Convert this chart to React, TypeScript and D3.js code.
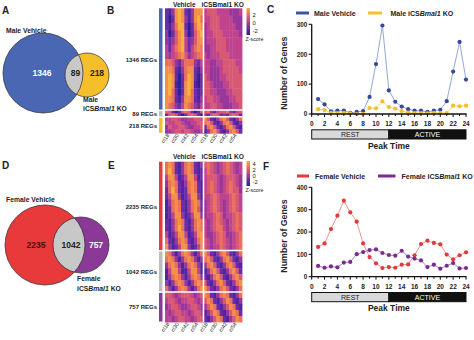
import React from "react";
import * as d3 from "d3";

const FONT = "'Liberation Sans', Arial, Helvetica, sans-serif";

// ---------- line chart data ----------
const peakHours = [1, 2, 3, 4, 5, 6, 7, 8, 9, 10, 11, 12, 13, 14, 15, 16, 17, 18, 19, 20, 21, 22, 23, 24];
const xTickValues = [0, 2, 4, 6, 8, 10, 12, 14, 16, 18, 20, 22, 24];
const maleYTicks = [0, 100, 200, 300];
const femaleYTicks = [0, 100, 200, 300, 400];

const maleVehicle = [50, 32, 9, 11, 11, 4, 7, 10, 57, 167, 296, 79, 41, 25, 16, 11, 11, 7, 11, 14, 43, 142, 241, 115];
const maleKO = [16, 13, 4, 3, 4, 2, 0, 0, 20, 19, 42, 23, 18, 10, 5, 3, 3, 2, 4, 3, 3, 28, 26, 28];
const femaleVehicle = [133, 149, 213, 273, 340, 288, 246, 149, 88, 60, 39, 43, 40, 54, 55, 96, 146, 161, 151, 145, 99, 78, 96, 109];
const femaleKO = [48, 40, 46, 42, 63, 66, 101, 110, 119, 122, 106, 97, 94, 116, 90, 81, 73, 43, 54, 36, 49, 61, 37, 39];

// ---------- venn data ----------
const maleVenn = [1346, 89, 218];
const femaleVenn = [2235, 1042, 757];

// ---------- heatmap data ----------
const heatTimes = ["ct18", "ct22", "ct26", "ct30", "ct34", "ct38", "ct42", "ct46", "ct50", "ct54", "ct58", "ct62"];
const heatTimeLabels = ["ct18", "ct30", "ct42", "ct54"];
const heatConditions = ["Vehicle", "iCSBmal1 KO"];
const maleRegCounts = [1346, 89, 218];
const maleRegLabels = ["1346 REGs", "89 REGs", "218 REGs"];
const femaleRegCounts = [2235, 1042, 757];
const femaleRegLabels = ["2235 REGs", "1042 REGs", "757 REGs"];
const maleLegendTicks = [2, 0, -2];
const femaleLegendTicks = [4, 2, 0, -2];

// z-score levels as digits (0 = -2.5 ... 8 = +2.5); each row: 12 vehicle + 12 KO
const maleRows1 = [
  "213787213777" + "455544443334",
  "202787313786" + "445554444333",
  "213688202687" + "345554444433",
  "302578302578" + "344555444443",
  "323578423577" + "344455544444",
  "424678424676" + "334455544444",
  "434567534566" + "434445554444",
  "665324666324" + "443344555544",
  "776213677213" + "443334555554",
  "787202687202" + "543334455555",
  "787102787102" + "554333445555",
  "786202786212" + "554433344555",
  "776213776213" + "455443334455",
  "765324765324" + "445544333445",
];
const maleRows2 = [
  "652025652025" + "563245563245",
  "256520256520" + "325652325652",
];
const maleRows3 = [
  "445543344554" + "752136752136",
  "544554334455" + "675213675213",
  "354455433445" + "267521367521",
  "334554554334" + "136752136752",
];
const femaleRows1 = [
  "676213676213" + "565434565434",
  "686213676212" + "465434565434",
  "477412477412" + "455543455543",
  "367621367621" + "456543456543",
  "268621267621" + "456543456553",
  "247731247731" + "445654445654",
  "136762136762" + "345654345654",
  "126762136752" + "345654345654",
  "124773124773" + "344565344565",
  "213676213676" + "434565434565",
  "213686213676" + "434566434565",
  "412477412477" + "433456533456",
  "621367621367" + "543456543456",
  "731247731247" + "543446543456",
];
const femaleRows2 = [
  "763136763136" + "752136752136",
  "676313676313" + "675213675213",
  "367631367631" + "367521367521",
  "147741147741" + "136752136752",
  "136763136763" + "213675213675",
  "313676313676" + "521367521367",
  "631367631367" + "752136752136",
];
const femaleRows3 = [
  "554345554345" + "762136762136",
  "455434455434" + "576213576213",
  "345543345543" + "357621357621",
  "434554434554" + "135762135762",
  "443455443455" + "213576213576",
];

const cellColor = d3
  .scaleLinear<string>()
  .domain([-2.5, -1.3, 0, 1.2, 2.5])
  .range(["#2f1f97", "#6a2ba8", "#c0438e", "#ec6d5a", "#f8b03c"])
  .clamp(true);

const digitToZ = (ch: string) => (parseInt(ch, 10) - 4) * 0.625;

function ItalicKO({ prefix }: { prefix: string }) {
  return (
    <>
      {prefix}iCS<tspan fontStyle="italic">Bmal1</tspan> KO
    </>
  );
}

function Venn(props: {
  id: string;
  values: number[];
  big: { cx: number; cy: number; r: number; color: string };
  small: { cx: number; cy: number; r: number; color: string };
  title: string;
  titleY: number;
  koLabel: string;
  koX: number;
  koY: number;
  textColors: string[];
  textX: number[];
}) {
  const { id, values, big, small } = props;
  const cy = big.cy + 3;
  return (
    <g>
      <defs>
        <clipPath id={id}>
          <circle cx={small.cx} cy={small.cy} r={small.r} />
        </clipPath>
      </defs>
      <circle cx={big.cx} cy={big.cy} r={big.r} fill={big.color} />
      <circle cx={small.cx} cy={small.cy} r={small.r} fill={small.color} />
      <circle cx={big.cx} cy={big.cy} r={big.r} fill="#c8c8c8" clipPath={`url(#${id})`} />
      <circle cx={big.cx} cy={big.cy} r={big.r} fill="none" stroke="#2a2a2a" strokeWidth={0.7} />
      <circle cx={small.cx} cy={small.cy} r={small.r} fill="none" stroke="#2a2a2a" strokeWidth={0.7} />
      {values.map((v, i) => (
        <text key={i} x={props.textX[i]} y={cy} textAnchor="middle" fontSize={8.5} fontWeight="bold" fill={props.textColors[i]}>
          {v}
        </text>
      ))}
      <text x={6} y={props.titleY} fontSize={6.8} fontWeight="bold" fill="#222">
        {props.title}
      </text>
      <text x={props.koX} y={props.koY} fontSize={6.8} fontWeight="bold" fill="#222">
        {props.koLabel}
      </text>
      <text x={props.koX} y={props.koY + 9.5} fontSize={6.8} fontWeight="bold" fill="#222">
        <ItalicKO prefix="" />
      </text>
    </g>
  );
}

function Heatmap(props: {
  top: number;
  bottom: number;
  counts: number[];
  labels: string[];
  barColors: string[];
  groups: string[][];
  legendTicks: number[];
  legendTop: number;
  legendBottom: number;
  legendDomain: [number, number];
  titleY: number;
  gradId: string;
}) {
  const { top, bottom, counts, groups } = props;
  const total = d3.sum(counts);
  const yScale = d3.scaleLinear().domain([0, total]).range([top, bottom]);
  const cols = d3.scaleBand<number>().domain(d3.range(heatTimes.length * 2)).range([165, 242]);
  const cum = counts.map((_, i) => d3.sum(counts.slice(0, i)));
  const midX = cols(heatTimes.length)!;
  const legY = d3.scaleLinear().domain(props.legendDomain).range([props.legendTop, props.legendBottom]);
  return (
    <g>
      <defs>
        <linearGradient id={props.gradId} x1="0" y1="0" x2="0" y2="1">
          {[2.5, 1.2, 0, -1.3, -2.5].map((z, i) => (
            <stop key={i} offset={`${(i / 4) * 100}%`} stopColor={cellColor(z)} />
          ))}
        </linearGradient>
      </defs>
      {groups.map((rows, gi) => {
        const y0 = yScale(cum[gi]);
        const y1 = yScale(cum[gi] + counts[gi]);
        const rb = d3.scaleBand<number>().domain(d3.range(rows.length)).range([y0, y1]);
        return (
          <g key={gi}>
            {rows.map((row, ri) =>
              row.split("").map((ch, ci) => (
                <rect
                  key={`${ri}-${ci}`}
                  x={cols(ci)}
                  y={rb(ri)}
                  width={cols.bandwidth() + 0.4}
                  height={rb.bandwidth() + 0.4}
                  fill={cellColor(digitToZ(ch))}
                />
              ))
            )}
            <rect x={159} y={y0 + (gi ? 1 : 0)} width={3.5} height={y1 - y0 - (gi ? 1.5 : 0.5)} fill={props.barColors[gi]} />
            <text x={157} y={(y0 + y1) / 2 + 2.5} textAnchor="end" fontSize={6} fontWeight="bold" fill="#222">
              {props.labels[gi]}
            </text>
          </g>
        );
      })}
      {cum.slice(1).map((c, i) => (
        <line key={i} x1={165} x2={242.5} y1={yScale(c)} y2={yScale(c)} stroke="#fff" strokeWidth={1.5} />
      ))}
      <line x1={midX} x2={midX} y1={top} y2={bottom} stroke="#fff" strokeWidth={1.6} />
      {heatConditions.map((c, i) => (
        <text
          key={c}
          x={i === 0 ? (165 + midX) / 2 : (midX + 242) / 2}
          y={props.titleY}
          textAnchor="middle"
          fontSize={6.6}
          fontWeight="bold"
          fill="#222"
        >
          {c}
        </text>
      ))}
      {[0, 1].map((half) =>
        heatTimeLabels.map((lab) => {
          const ci = heatTimes.indexOf(lab) + half * heatTimes.length;
          const x = cols(ci)! + cols.bandwidth() / 2 + 3;
          const y = bottom + 2;
          return (
            <text
              key={`${half}-${lab}`}
              x={x}
              y={y}
              textAnchor="end"
              fontSize={5.3}
              fill="#222"
              transform={`rotate(-55 ${x} ${y})`}
            >
              {lab}
            </text>
          );
        })
      )}
      <rect x={246.5} y={props.legendTop} width={3.5} height={props.legendBottom - props.legendTop} fill={`url(#${props.gradId})`} />
      {props.legendTicks.map((t) => (
        <text key={t} x={252.5} y={legY(t) + 2} fontSize={5.8} fill="#222">
          {t}
        </text>
      ))}
      <text x={245.5} y={props.legendBottom + 6} fontSize={5.3} fill="#222">
        Z-score
      </text>
    </g>
  );
}

function LineChart(props: {
  axisY: number;
  topY: number;
  yMax: number;
  yTicks: number[];
  series: { values: number[]; dot: string; line: string }[];
  legend: { x1: number; x2: number; tx: number; color: string; label: React.ReactNode }[];
  legendY: number;
}) {
  const x = d3.scaleLinear().domain([0, 24]).range([311.7, 466]);
  const y = d3.scaleLinear().domain([0, props.yMax]).range([props.axisY, props.topY]);
  const line = d3
    .line<number>()
    .x((_, i) => x(peakHours[i]))
    .y((d) => y(d));
  const a = props.axisY;
  const labelY = (props.axisY + props.topY) / 2 + 4;
  return (
    <g>
      {props.legend.map((l, i) => (
        <g key={i}>
          <line x1={l.x1} x2={l.x2} y1={props.legendY} y2={props.legendY} stroke={l.color} strokeWidth={3} />
          <text x={l.tx} y={props.legendY + 2.5} fontSize={7} fontWeight="bold" fill="#222">
            {l.label}
          </text>
        </g>
      ))}
      {props.series.map((s, i) => (
        <g key={i}>
          <path d={line(s.values) || ""} fill="none" stroke={s.line} strokeWidth={0.9} />
          {s.values.map((v, j) => (
            <circle key={j} cx={x(peakHours[j])} cy={y(v)} r={2.1} fill={s.dot} />
          ))}
        </g>
      ))}
      {/* axes */}
      <line x1={x(0)} x2={x(0)} y1={y(props.yMax)} y2={a + 0.6} stroke="#111" strokeWidth={1.3} />
      <line x1={x(0) - 0.6} x2={x(24) + 0.6} y1={a} y2={a} stroke="#111" strokeWidth={1.3} />
      {props.yTicks.map((t) => (
        <g key={t}>
          <line x1={x(0) - 3} x2={x(0)} y1={y(t)} y2={y(t)} stroke="#111" strokeWidth={1.1} />
          <text x={x(0) - 4.5} y={y(t) + 2.3} textAnchor="end" fontSize={6.3} fontWeight="bold" fill="#222">
            {t}
          </text>
        </g>
      ))}
      {peakHours.concat([0]).map((h) => (
        <line key={h} x1={x(h)} x2={x(h)} y1={a} y2={a + (h % 2 === 0 ? 3 : 2)} stroke="#111" strokeWidth={1} />
      ))}
      {xTickValues.map((t) => (
        <text key={t} x={x(t)} y={a + 12} textAnchor="middle" fontSize={6.5} fontWeight="bold" fill="#222">
          {t}
        </text>
      ))}
      <rect x={x(0)} y={a + 15.8} width={x(12) - x(0)} height={9.2} fill="#d9d9d9" stroke="#111" strokeWidth={1} />
      <rect x={x(12)} y={a + 15.8} width={x(24) - x(12)} height={9.2} fill="#111" stroke="#111" strokeWidth={1} />
      <text x={(x(0) + x(12)) / 2} y={a + 23} textAnchor="middle" fontSize={7} fill="#222">
        REST
      </text>
      <text x={(x(12) + x(24)) / 2} y={a + 23} textAnchor="middle" fontSize={7} fill="#fff">
        ACTIVE
      </text>
      <text x={(x(0) + x(24)) / 2} y={a + 34.5} textAnchor="middle" fontSize={8.5} fontWeight="bold" fill="#222">
        Peak Time
      </text>
      <text
        x={287}
        y={labelY}
        textAnchor="middle"
        fontSize={8.8}
        fontWeight="bold"
        fill="#222"
        transform={`rotate(-90 287 ${labelY})`}
      >
        Number of Genes
      </text>
    </g>
  );
}

export default function App() {
  return (
    <svg
      width={474}
      height={340}
      viewBox="0 0 474 340"
      style={{ position: "absolute", left: 0, top: 0, background: "#fff" }}
      fontFamily={FONT}
    >
      <rect width={474} height={340} fill="#fff" />
      {/* panel letters */}
      {[
        ["A", 2, 14],
        ["B", 107, 14],
        ["C", 267, 13],
        ["D", 2, 169],
        ["E", 108, 169],
        ["F", 263, 170],
      ].map(([l, x, y]) => (
        <text key={l as string} x={x as number} y={y as number} fontSize={10} fontWeight="bold" fill="#222">
          {l}
        </text>
      ))}

      <Venn
        id="clipMale"
        values={maleVenn}
        big={{ cx: 43, cy: 73, r: 40, color: "#4a67b3" }}
        small={{ cx: 87, cy: 75, r: 22, color: "#f4bf2b" }}
        title="Male Vehicle"
        titleY={33}
        koLabel="Male"
        koX={83}
        koY={101.5}
        textColors={["#ffffff", "#222", "#222"]}
        textX={[42, 75.5, 97]}
      />
      <Venn
        id="clipFemale"
        values={femaleVenn}
        big={{ cx: 45, cy: 245, r: 40, color: "#e8393b" }}
        small={{ cx: 81, cy: 245, r: 28, color: "#8a3996" }}
        title="Female Vehicle"
        titleY={202}
        koLabel="Female"
        koX={77}
        koY={281}
        textColors={["#4a0d0d", "#222", "#ffffff"]}
        textX={[36, 71, 96]}
      />

      <Heatmap
        top={8.3}
        bottom={133.3}
        counts={maleRegCounts}
        labels={maleRegLabels}
        barColors={["#4a67b3", "#bdbdbd", "#f4bf2b"]}
        groups={[maleRows1, maleRows2, maleRows3]}
        legendTicks={maleLegendTicks}
        legendTop={8}
        legendBottom={35}
        legendDomain={[3.75, -3]}
        titleY={6.5}
        gradId="gradMale"
      />
      <Heatmap
        top={161.7}
        bottom={322}
        counts={femaleRegCounts}
        labels={femaleRegLabels}
        barColors={["#e8393b", "#bdbdbd", "#8a3996"]}
        groups={[femaleRows1, femaleRows2, femaleRows3]}
        legendTicks={femaleLegendTicks}
        legendTop={161}
        legendBottom={186}
        legendDomain={[5, -3.33]}
        titleY={158.5}
        gradId="gradFemale"
      />

      <LineChart
        axisY={114}
        topY={24.3}
        yMax={300}
        yTicks={maleYTicks}
        series={[
          { values: maleVehicle, dot: "#35489a", line: "#8a9bd0" },
          { values: maleKO, dot: "#f1c02c", line: "#f6d566" },
        ]}
        legendY={13}
        legend={[
          { x1: 296, x2: 309, tx: 314, color: "#3d54a6", label: "Male Vehicle" },
          { x1: 368, x2: 382, tx: 390.5, color: "#f2c12e", label: <ItalicKO prefix="Male " /> },
        ]}
      />
      <LineChart
        axisY={276.7}
        topY={187.3}
        yMax={400}
        yTicks={femaleYTicks}
        series={[
          { values: femaleVehicle, dot: "#e03a3c", line: "#ef8a86" },
          { values: femaleKO, dot: "#7b2b8d", line: "#a872b8" },
        ]}
        legendY={176}
        legend={[
          { x1: 297, x2: 309, tx: 315, color: "#e33b3c", label: "Female Vehicle" },
          { x1: 378, x2: 395.5, tx: 401.5, color: "#7b2b8d", label: <ItalicKO prefix="Female " /> },
        ]}
      />
    </svg>
  );
}
